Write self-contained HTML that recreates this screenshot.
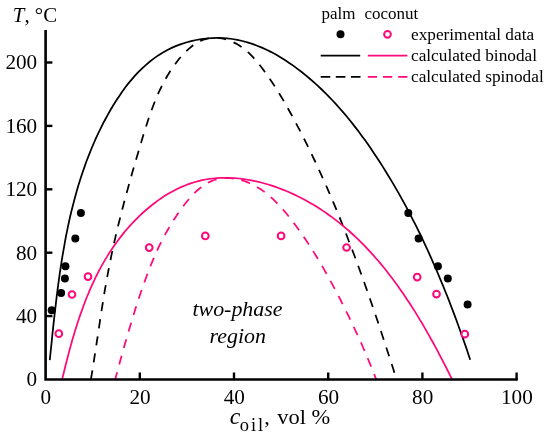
<!DOCTYPE html>
<html><head><meta charset="utf-8"><title>Phase diagram</title>
<style>html,body{margin:0;padding:0;background:#fff}svg{display:block}</style>
</head><body>
<svg width="550" height="439" viewBox="0 0 550 439">
<rect width="550" height="439" fill="#fff"/>
<path d="M90.9,379.5 L91.7,374.7 L92.5,369.9 L93.2,365.2 L94.0,360.4 L94.7,355.6 L95.5,350.8 L96.2,346.0 L96.9,341.2 L97.7,336.4 L98.4,331.6 L99.1,326.9 L99.8,322.1 L100.5,317.3 L101.3,312.5 L102.0,307.7 L102.8,302.9 L103.5,298.1 L104.3,293.4 L105.1,288.6 L106.0,283.8 L106.8,279.1 L107.7,274.3 L108.6,269.5 L109.5,264.8 L110.5,260.0 L111.4,255.3 L112.4,250.6 L113.5,245.8 L114.5,241.1 L115.6,236.4 L116.7,231.7 L117.8,227.0 L119.0,222.3 L120.2,217.6 L121.4,212.9 L122.6,208.2 L123.8,203.5 L125.0,198.8 L126.3,194.1 L127.6,189.5 L128.9,184.8 L130.2,180.1 L131.5,175.5 L132.8,170.8 L134.2,166.1 L135.5,161.5 L136.9,156.8 L138.3,152.2 L139.6,147.6 L141.0,142.9 L142.4,138.3 L143.8,133.6 L145.3,129.0 L146.7,124.4 L148.2,119.8 L149.8,115.3 L151.4,110.7 L153.0,106.2 L154.8,101.7 L156.6,97.2 L158.5,92.8 L160.6,88.5 L162.7,84.2 L165.0,79.9 L167.4,75.7 L170.0,71.5 L172.7,67.5 L175.6,63.5 L178.6,59.5 L181.8,55.7 L185.2,52.1 L188.8,48.8 L192.5,45.8 L196.4,43.2 L200.5,41.0 L204.7,39.3 L209.1,38.1 L213.7,37.7 L218.5,37.8 L223.3,38.7 L228.1,40.1 L232.8,42.0 L237.4,44.3 L241.6,47.0 L245.5,50.0 L249.1,53.2 L252.5,56.6 L255.7,60.2 L258.8,63.9 L261.8,67.7 L264.6,71.6 L267.5,75.5 L270.2,79.4 L272.9,83.5 L275.5,87.5 L278.1,91.6 L280.6,95.7 L283.1,99.9 L285.5,104.1 L287.9,108.3 L290.2,112.5 L292.6,116.8 L294.9,121.1 L297.1,125.3 L299.4,129.6 L301.6,133.9 L303.8,138.3 L306.0,142.6 L308.1,146.9 L310.2,151.3 L312.3,155.6 L314.4,160.0 L316.5,164.4 L318.5,168.8 L320.5,173.2 L322.5,177.6 L324.5,182.0 L326.5,186.5 L328.4,190.9 L330.3,195.3 L332.2,199.8 L334.1,204.2 L336.0,208.7 L337.8,213.2 L339.6,217.7 L341.5,222.1 L343.2,226.6 L345.0,231.1 L346.8,235.6 L348.5,240.2 L350.3,244.7 L352.0,249.2 L353.7,253.7 L355.4,258.2 L357.1,262.8 L358.7,267.3 L360.4,271.9 L362.0,276.4 L363.7,281.0 L365.3,285.5 L366.9,290.1 L368.5,294.7 L370.1,299.2 L371.7,303.8 L373.2,308.4 L374.8,313.0 L376.4,317.5 L377.9,322.1 L379.4,326.7 L381.0,331.3 L382.5,335.9 L384.0,340.5 L385.5,345.1 L387.0,349.7 L388.5,354.3 L390.0,358.9 L391.5,363.5 L393.0,368.1 L394.4,372.8" fill="none" stroke="#000" stroke-width="1.75" stroke-dasharray="9.2 8.083" stroke-dashoffset="0"/>
<path d="M115.2,379.5 L116.0,376.4 L116.8,373.4 L117.6,370.3 L118.4,367.3 L119.3,364.3 L120.1,361.2 L120.9,358.2 L121.8,355.1 L122.6,352.1 L123.5,349.0 L124.3,346.0 L125.2,343.0 L126.1,339.9 L127.0,336.9 L127.9,333.8 L128.8,330.8 L129.7,327.7 L130.6,324.7 L131.5,321.7 L132.4,318.6 L133.3,315.6 L134.3,312.6 L135.2,309.6 L136.2,306.5 L137.2,303.5 L138.1,300.5 L139.1,297.5 L140.1,294.5 L141.1,291.5 L142.1,288.6 L143.2,285.6 L144.2,282.6 L145.3,279.7 L146.4,276.7 L147.5,273.8 L148.6,270.8 L149.7,267.9 L150.9,265.0 L152.1,262.1 L153.3,259.2 L154.6,256.3 L155.8,253.4 L157.1,250.6 L158.4,247.7 L159.8,244.9 L161.2,242.1 L162.6,239.3 L164.1,236.5 L165.6,233.7 L167.1,231.0 L168.7,228.2 L170.3,225.5 L171.9,222.8 L173.6,220.1 L175.4,217.4 L177.1,214.8 L179.0,212.1 L180.8,209.5 L182.8,206.9 L184.7,204.3 L186.7,201.8 L188.8,199.3 L190.9,196.8 L193.1,194.5 L195.4,192.2 L197.8,190.0 L200.2,188.0 L202.7,186.1 L205.3,184.3 L208.0,182.8 L210.8,181.4 L213.6,180.2 L216.6,179.3 L219.6,178.6 L222.6,178.2 L225.7,178.0 L228.8,178.0 L231.9,178.3 L235.0,178.7 L238.1,179.3 L241.2,180.1 L244.2,181.0 L247.1,182.1 L249.9,183.3 L252.7,184.6 L255.5,186.1 L258.1,187.7 L260.8,189.3 L263.3,191.1 L265.8,193.0 L268.3,195.0 L270.7,197.0 L273.0,199.2 L275.3,201.4 L277.6,203.7 L279.8,206.0 L282.0,208.4 L284.1,210.8 L286.2,213.3 L288.2,215.8 L290.2,218.4 L292.2,220.9 L294.2,223.5 L296.1,226.1 L298.0,228.7 L299.9,231.3 L301.7,233.9 L303.5,236.5 L305.3,239.1 L307.1,241.8 L308.8,244.4 L310.5,247.1 L312.2,249.7 L313.9,252.4 L315.5,255.0 L317.2,257.7 L318.8,260.4 L320.4,263.0 L321.9,265.7 L323.5,268.4 L325.1,271.2 L326.6,273.9 L328.1,276.6 L329.6,279.3 L331.1,282.1 L332.6,284.8 L334.1,287.6 L335.5,290.4 L337.0,293.1 L338.4,295.9 L339.9,298.7 L341.3,301.5 L342.7,304.4 L344.1,307.2 L345.5,310.0 L347.0,312.9 L348.4,315.7 L349.8,318.6 L351.1,321.5 L352.5,324.3 L353.9,327.2 L355.2,330.1 L356.6,333.0 L357.9,335.9 L359.3,338.8 L360.6,341.7 L361.9,344.6 L363.1,347.5 L364.4,350.4 L365.7,353.3 L366.9,356.2 L368.1,359.2 L369.3,362.1 L370.5,365.0 L371.7,367.9 L372.8,370.8 L374.0,373.7 L375.1,376.6 L376.2,379.5" fill="none" stroke="#ff087a" stroke-width="1.75" stroke-dasharray="9.2 7.982" stroke-dashoffset="1.7"/>
<path d="M49.8,360.1 L50.3,355.0 L50.8,349.9 L51.4,344.7 L51.9,339.6 L52.4,334.4 L53.0,329.2 L53.5,324.1 L54.1,318.9 L54.7,313.7 L55.3,308.6 L55.9,303.4 L56.5,298.2 L57.1,293.1 L57.8,287.9 L58.5,282.7 L59.2,277.6 L59.9,272.4 L60.7,267.3 L61.5,262.1 L62.3,257.0 L63.2,251.9 L64.1,246.8 L65.0,241.6 L65.9,236.5 L67.0,231.4 L68.0,226.4 L69.1,221.3 L70.2,216.2 L71.4,211.2 L72.7,206.2 L74.0,201.2 L75.3,196.2 L76.7,191.2 L78.1,186.2 L79.7,181.3 L81.2,176.4 L82.9,171.5 L84.6,166.6 L86.3,161.7 L88.2,156.9 L90.1,152.1 L92.0,147.3 L94.1,142.5 L96.2,137.7 L98.4,133.0 L100.7,128.3 L103.0,123.7 L105.5,119.0 L108.0,114.4 L110.6,109.8 L113.3,105.3 L116.1,100.8 L119.0,96.4 L122.0,92.0 L125.0,87.8 L128.2,83.6 L131.6,79.6 L135.0,75.7 L138.5,71.9 L142.2,68.3 L146.0,64.8 L149.9,61.5 L154.0,58.4 L158.2,55.4 L162.5,52.7 L167.0,50.2 L171.6,47.9 L176.3,45.9 L181.1,44.1 L186.1,42.5 L191.1,41.1 L196.2,40.0 L201.3,39.1 L206.5,38.5 L211.7,38.1 L216.9,37.9 L222.1,38.0 L227.2,38.4 L232.3,39.0 L237.4,39.9 L242.4,41.0 L247.4,42.3 L252.3,43.9 L257.1,45.7 L261.9,47.6 L266.6,49.8 L271.3,52.1 L275.9,54.6 L280.4,57.2 L284.9,60.0 L289.2,62.9 L293.6,65.9 L297.8,69.1 L302.0,72.3 L306.1,75.6 L310.1,79.0 L314.0,82.4 L317.9,85.9 L321.7,89.5 L325.4,93.1 L329.1,96.8 L332.6,100.5 L336.2,104.3 L339.6,108.2 L343.0,112.1 L346.4,116.0 L349.6,120.0 L352.9,124.1 L356.0,128.1 L359.2,132.2 L362.2,136.4 L365.3,140.6 L368.3,144.8 L371.2,149.1 L374.1,153.4 L377.0,157.7 L379.8,162.0 L382.6,166.4 L385.3,170.8 L388.0,175.2 L390.7,179.6 L393.4,184.1 L396.0,188.6 L398.6,193.1 L401.1,197.6 L403.6,202.2 L406.1,206.7 L408.5,211.3 L410.9,215.9 L413.3,220.6 L415.7,225.2 L418.0,229.9 L420.3,234.5 L422.5,239.2 L424.7,243.9 L426.9,248.7 L429.1,253.4 L431.2,258.1 L433.3,262.9 L435.4,267.7 L437.5,272.5 L439.5,277.3 L441.5,282.1 L443.5,286.9 L445.4,291.7 L447.4,296.5 L449.3,301.4 L451.1,306.2 L453.0,311.1 L454.8,315.9 L456.6,320.8 L458.4,325.7 L460.1,330.5 L461.9,335.4 L463.6,340.3 L465.3,345.1 L467.0,350.0 L468.6,354.9 L470.2,359.8" fill="none" stroke="#000" stroke-width="1.75"/>
<path d="M62.1,379.5 L63.0,375.8 L63.9,372.2 L64.8,368.5 L65.7,364.8 L66.6,361.2 L67.6,357.5 L68.5,353.9 L69.5,350.2 L70.5,346.6 L71.5,342.9 L72.5,339.3 L73.6,335.7 L74.7,332.1 L75.8,328.5 L76.9,324.9 L78.1,321.3 L79.3,317.7 L80.5,314.1 L81.8,310.6 L83.1,307.0 L84.4,303.5 L85.7,300.0 L87.1,296.5 L88.6,293.1 L90.0,289.6 L91.5,286.2 L93.1,282.8 L94.7,279.4 L96.3,276.0 L98.0,272.7 L99.7,269.4 L101.5,266.1 L103.3,262.9 L105.2,259.6 L107.2,256.4 L109.1,253.2 L111.2,250.1 L113.3,247.0 L115.4,243.9 L117.6,240.9 L119.9,237.9 L122.2,234.9 L124.6,231.9 L127.1,229.0 L129.6,226.2 L132.2,223.4 L134.8,220.6 L137.5,217.8 L140.3,215.2 L143.1,212.5 L146.0,210.0 L149.0,207.5 L152.0,205.0 L155.0,202.7 L158.1,200.4 L161.3,198.2 L164.4,196.1 L167.7,194.1 L171.0,192.2 L174.3,190.4 L177.6,188.7 L181.0,187.1 L184.5,185.7 L187.9,184.3 L191.4,183.1 L195.0,182.0 L198.5,181.1 L202.1,180.2 L205.7,179.5 L209.3,178.9 L213.0,178.5 L216.6,178.2 L220.3,177.9 L224.0,177.8 L227.7,177.8 L231.4,178.0 L235.1,178.2 L238.8,178.5 L242.5,178.9 L246.2,179.5 L249.9,180.1 L253.6,180.8 L257.3,181.6 L261.0,182.5 L264.6,183.5 L268.3,184.5 L271.9,185.7 L275.5,186.9 L279.1,188.2 L282.7,189.6 L286.3,191.0 L289.8,192.5 L293.3,194.1 L296.7,195.8 L300.2,197.5 L303.6,199.2 L306.9,201.0 L310.2,202.9 L313.5,204.8 L316.7,206.8 L319.9,208.8 L323.0,210.9 L326.2,213.0 L329.2,215.2 L332.3,217.4 L335.2,219.6 L338.2,221.9 L341.1,224.3 L344.0,226.6 L346.9,229.1 L349.7,231.5 L352.4,234.0 L355.2,236.6 L357.9,239.2 L360.6,241.8 L363.2,244.4 L365.8,247.1 L368.4,249.8 L370.9,252.6 L373.5,255.4 L375.9,258.2 L378.4,261.0 L380.8,263.9 L383.2,266.8 L385.6,269.8 L387.9,272.7 L390.2,275.7 L392.5,278.7 L394.7,281.7 L397.0,284.8 L399.2,287.9 L401.3,291.0 L403.5,294.1 L405.6,297.2 L407.7,300.4 L409.8,303.5 L411.8,306.7 L413.9,309.9 L415.9,313.1 L417.9,316.4 L419.8,319.6 L421.8,322.8 L423.7,326.1 L425.6,329.4 L427.4,332.6 L429.3,335.9 L431.1,339.2 L433.0,342.5 L434.8,345.8 L436.6,349.1 L438.3,352.4 L440.1,355.8 L441.8,359.1 L443.5,362.4 L445.2,365.7 L446.9,369.0 L448.6,372.3 L450.2,375.6 L451.9,378.9" fill="none" stroke="#ff087a" stroke-width="1.75"/>
<g stroke="#000" stroke-width="2.6" fill="none">
<path d="M45.6,30 V379.5 H517.8"/>
</g>
<g stroke="#000" stroke-width="2.4" fill="none">
<path d="M45.6,316.1 h6.8"/>
<path d="M45.6,252.7 h6.8"/>
<path d="M45.6,189.3 h6.8"/>
<path d="M45.6,125.9 h6.8"/>
<path d="M45.6,62.5 h6.8"/>
<path d="M139.8,379.5 v-7"/>
<path d="M234.0,379.5 v-7"/>
<path d="M328.2,379.5 v-7"/>
<path d="M422.4,379.5 v-7"/>
<path d="M516.6,379.5 v-7"/>
</g>
<circle cx="51.7" cy="310.2" r="4" fill="#000"/>
<circle cx="61.1" cy="293.0" r="4" fill="#000"/>
<circle cx="64.9" cy="278.5" r="4" fill="#000"/>
<circle cx="65.4" cy="266.3" r="4" fill="#000"/>
<circle cx="75.3" cy="238.4" r="4" fill="#000"/>
<circle cx="80.9" cy="213.1" r="4" fill="#000"/>
<circle cx="408.3" cy="213.1" r="4" fill="#000"/>
<circle cx="418.6" cy="238.4" r="4" fill="#000"/>
<circle cx="437.9" cy="266.2" r="4" fill="#000"/>
<circle cx="447.8" cy="278.4" r="4" fill="#000"/>
<circle cx="467.6" cy="304.4" r="4" fill="#000"/>
<circle cx="58.8" cy="333.7" r="3.35" fill="#fff" stroke="#ff087a" stroke-width="2"/>
<circle cx="72.0" cy="294.5" r="3.35" fill="#fff" stroke="#ff087a" stroke-width="2"/>
<circle cx="88.0" cy="276.6" r="3.35" fill="#fff" stroke="#ff087a" stroke-width="2"/>
<circle cx="149.2" cy="247.6" r="3.35" fill="#fff" stroke="#ff087a" stroke-width="2"/>
<circle cx="205.3" cy="235.9" r="3.35" fill="#fff" stroke="#ff087a" stroke-width="2"/>
<circle cx="281.1" cy="235.9" r="3.35" fill="#fff" stroke="#ff087a" stroke-width="2"/>
<circle cx="346.6" cy="247.5" r="3.35" fill="#fff" stroke="#ff087a" stroke-width="2"/>
<circle cx="417.2" cy="277.1" r="3.35" fill="#fff" stroke="#ff087a" stroke-width="2"/>
<circle cx="436.5" cy="294.1" r="3.35" fill="#fff" stroke="#ff087a" stroke-width="2"/>
<circle cx="464.8" cy="334.2" r="3.35" fill="#fff" stroke="#ff087a" stroke-width="2"/>
<circle cx="340.5" cy="34.3" r="4" fill="#000"/>
<circle cx="387.5" cy="34.3" r="3.35" fill="#fff" stroke="#ff087a" stroke-width="2"/>
<path d="M320.7,55.6 H360.2" stroke="#000" stroke-width="1.7"/>
<path d="M367.8,55.6 H407.4" stroke="#ff087a" stroke-width="1.7"/>
<path d="M320.7,76.8 H360.6" stroke="#000" stroke-width="1.7" stroke-dasharray="9.6 5.5"/>
<path d="M367.8,76.8 H407.4" stroke="#ff087a" stroke-width="1.7" stroke-dasharray="9.2 6"/>
<g font-family="'Liberation Serif', 'Times New Roman', serif" fill="#000">
<text transform="translate(37.2,386.4) scale(1.0,1)" font-size="21.2px" text-anchor="end">0</text>
<text transform="translate(37.2,323.0) scale(1.0,1)" font-size="21.2px" text-anchor="end">40</text>
<text transform="translate(37.2,259.6) scale(1.0,1)" font-size="21.2px" text-anchor="end">80</text>
<text transform="translate(37.2,196.2) scale(1.0,1)" font-size="21.2px" text-anchor="end">120</text>
<text transform="translate(37.2,132.8) scale(1.0,1)" font-size="21.2px" text-anchor="end">160</text>
<text transform="translate(37.2,69.4) scale(1.0,1)" font-size="21.2px" text-anchor="end">200</text>
<text transform="translate(45.9,404.4) scale(1.0,1)" font-size="21.2px" text-anchor="middle">0</text>
<text transform="translate(140.1,404.4) scale(1.0,1)" font-size="21.2px" text-anchor="middle">20</text>
<text transform="translate(234.3,404.4) scale(1.0,1)" font-size="21.2px" text-anchor="middle">40</text>
<text transform="translate(328.5,404.4) scale(1.0,1)" font-size="21.2px" text-anchor="middle">60</text>
<text transform="translate(422.7,404.4) scale(1.0,1)" font-size="21.2px" text-anchor="middle">80</text>
<text transform="translate(516.9,404.4) scale(1.0,1)" font-size="21.2px" text-anchor="middle">100</text>
<text transform="translate(12.8,22.2) scale(1.02,1)" font-size="20.5px" text-anchor="start"><tspan font-style="italic">T</tspan>, °C</text>
<text transform="translate(321.4,18.5) scale(1.0,1)" font-size="17px" text-anchor="start">palm</text>
<text transform="translate(364.5,18.5) scale(1.0,1)" font-size="17px" text-anchor="start">coconut</text>
<text transform="translate(411.0,39.6) scale(1.0,1)" font-size="17.25px" text-anchor="start">experimental data</text>
<text transform="translate(411.0,60.8) scale(1.0,1)" font-size="17.25px" text-anchor="start">calculated binodal</text>
<text transform="translate(411.0,81.5) scale(1.0,1)" font-size="17.25px" text-anchor="start">calculated spinodal</text>
<text transform="translate(237.5,316.0) scale(1.025,1)" font-size="21.4px" text-anchor="middle" font-style="italic">two-phase</text>
<text transform="translate(237.8,342.6) scale(1.025,1)" font-size="21.4px" text-anchor="middle" font-style="italic">region</text>
<text transform="translate(229.8,424.0) scale(1.02,1)" font-size="23.5px" text-anchor="start" font-style="italic">c</text>
<text transform="translate(239.8,430.8) scale(1.0,1)" font-size="18.5px" text-anchor="start" letter-spacing="1.9">oil</text>
<text transform="translate(264.3,424.0) scale(1.0,1)" font-size="22px" text-anchor="start">,</text>
<text transform="translate(277.3,424.0) scale(1.02,1)" font-size="22px" text-anchor="start">vol %</text>
</g>
</svg>
</body></html>
